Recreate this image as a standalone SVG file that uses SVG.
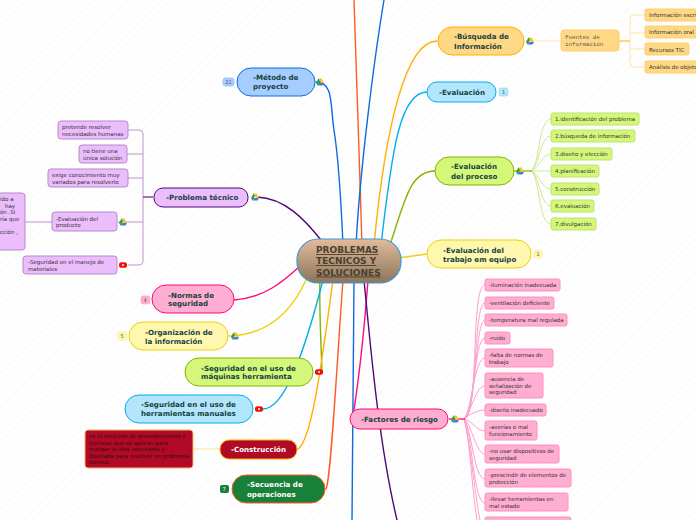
<svg xmlns="http://www.w3.org/2000/svg" width="696" height="520" viewBox="0 0 696 520">
<style>
text{font-family:"DejaVu Sans","Liberation Sans",sans-serif}
.m{font-size:7.1px;font-weight:700;fill:#16433f}
.s{font-size:5.5px;fill:#333}
.c{fill:none;stroke-linecap:round;stroke-width:1.4}
.pu{fill:#ebbdfc;stroke:#b58bc8;stroke-width:1}
.pk{fill:#ffadd0;stroke:#ff8fc0;stroke-width:1}
.gr{fill:#d4f77a;stroke:#bfe36d;stroke-width:1}
.or{fill:#ffd885;stroke:#ffcf70;stroke-width:1}
.n{font-size:5px;fill:#555;text-anchor:middle}
</style>
<defs>
<pattern id="bg" width="6" height="6" patternUnits="userSpaceOnUse" patternTransform="rotate(45)"><rect width="6" height="6" fill="#fefefe"/><rect width="1" height="6" fill="#f9f9f9"/></pattern>
<linearGradient id="cg" x1="0" y1="0" x2="0" y2="1"><stop offset="0" stop-color="#e2bb9a"/><stop offset="1" stop-color="#8b755c"/></linearGradient>
<g id="drive"><polygon points="-1.500,-3.500 1.500,-3.500 4,1 1,1" fill="#f5c518"/><polygon points="-1.500,-3.500 -4,1 -2.500,3.500 0,-1" fill="#2a9d4a"/><polygon points="-2.500,3.500 2.500,3.500 4,1 -1,1" fill="#3f7be0"/></g>
<g id="red"><rect x="-4" y="-2.800" width="8" height="5.600" rx="2.600" fill="#f20d0d"/><circle r="1" fill="#fff"/></g>
</defs>
<rect width="696" height="520" fill="url(#bg)"/>
<g id="connectors">
<path class="c" stroke="#ff5a22" d="M354 0C356 60 360 180 362 245"/>
<path class="c" stroke="#0f6be0" d="M384 0C374 60 360 170 356 245"/>
<path class="c" stroke="#0f6be0" d="M316 82C334 82 330 105 334 130S341 200 343 245"/>
<path class="c" stroke="#ffb000" d="M437 41C405 41 385 130 374 245"/>
<path class="c" stroke="#00aef0" d="M427 92C400 92 392 150 381 245"/>
<path class="c" stroke="#85b300" d="M435 171C410 171 405 200 390 245"/>
<path class="c" stroke="#ecd20a" d="M427 254L398 258"/>
<path class="c" stroke="#4f0a78" d="M257 197C285 198 305 220 321 240"/>
<path class="c" stroke="#fb0a78" d="M234 300C265 298 285 280 300 266"/>
<path class="c" stroke="#ecd20a" d="M229 336C265 335 290 315 306 280"/>
<path class="c" stroke="#85b300" d="M320 278C319 310 321 340 322 372"/>
<path class="c" stroke="#00aef0" d="M263 409C285 409 305 350 323 280"/>
<path class="c" stroke="#ffb000" d="M298 449C312 440 322 360 333 280"/>
<path class="c" stroke="#ff5a22" d="M326 489C331 480 337 360 343 280"/>
<path class="c" stroke="#0f6be0" d="M352 520L354 280"/>
<path class="c" stroke="#fb0a78" d="M354 410C360 370 365 320 368 280"/>
<path class="c" stroke="#4f0a78" d="M364 280C370 340 378 440 397 520"/>
<g stroke="#b58bc8" stroke-width=".9" fill="none">
<path d="M128 130H139Q143 130 143 134V261Q143 265 139 265H128"/><path d="M127 154H143M128 178H143M118 222H143"/><path d="M25 222H52"/>
</g>
<path d="M143 197H153" stroke="#7a3f98" stroke-width="1.4"/>
<g stroke="#ff9fcb" stroke-width="1" fill="none">
<path d="M464 419C480 415 470 285 485 285M464 419C478 415 473 303 485 303M464 419C476 415 475 320 485 320M464 419C474 415 474 338 485 338M464 419C472 410 474 358 485 358M464 419C472 410 476 386 485 386M464 419Q475 410 485 410M464 419C472 420 476 431 485 431M464 419C472 425 476 454 485 454M464 419C472 430 474 479 485 479M464 419C472 430 473 503 485 503M464 419C470 440 472 490 477 520M464 419C470 440 474 490 480 520"/>
</g>
<path d="M449 419H465" stroke="#fb0a78" stroke-width="1.3"/>
<g stroke="#cfe896" stroke-width="1" fill="none">
<path d="M531 171C540 165 538 119 551 119M531 171C540 165 540 136 551 136M531 171C540 167 542 154 551 154M531 171H551M531 171C540 175 542 189 551 189M531 171C540 175 540 206 551 206M531 171C540 177 538 224 551 224"/>
</g>
<path d="M514 171H532" stroke="#85b300" stroke-width="1.3"/>
<path d="M530 41H561" stroke="#ffe9b0" stroke-width="1"/>
<g stroke="#ffe2a8" stroke-width="1" fill="none">
<path d="M645 15H634Q630 15 630 19V63Q630 67 634 67H645"/><path d="M630 33H645M630 49H645"/>
</g>
<path d="M619 41H630" stroke="#ffb000" stroke-width="1"/>
<path d="M193 449H220" stroke="#ffe09a" stroke-width="1"/>
</g>
<g id="centro">
<rect x="297" y="239" width="104" height="44" rx="21" fill="url(#cg)" stroke="#3f97d8" stroke-width="1.2"/>
<text font-size="9" font-weight="700" fill="#4b3f2f" text-decoration="underline"><tspan x="316" y="253">PROBLEMAS</tspan><tspan x="316" y="264">TECNICOS Y</tspan><tspan x="316" y="275.500">SOLUCIONES</tspan></text>
</g>
<g id="busqueda"><rect x="438" y="27" width="86" height="28" rx="14" fill="#ffd885" stroke="#ffb000"/><text class="m"><tspan x="454" y="39">-Búsqueda de</tspan><tspan x="454" y="48.500">Información</tspan></text><use href="#drive" x="530" y="41"/></g>
<g id="fuentes"><rect x="561" y="30" width="58" height="21" rx="3" class="or"/><text style="font-family:'Liberation Mono',monospace" font-size="5.800" fill="#5a5a5a"><tspan x="565" y="39">fuentes de</tspan><tspan x="565" y="46">información</tspan></text></g>
<g id="f1"><rect x="645" y="9" width="60" height="12" rx="2" class="or"/><text class="s" x="649" y="17">Información escrita</text></g>
<g id="f2"><rect x="645" y="26" width="60" height="12" rx="2" class="or"/><text class="s" x="649" y="34">Información oral</text></g>
<g id="f3"><rect x="645" y="43" width="44" height="12" rx="2" class="or"/><text class="s" x="649" y="52">Recursos TIC</text></g>
<g id="f4"><rect x="645" y="61" width="60" height="12" rx="2" class="or"/><text class="s" x="649" y="69">Análisis de objetos</text></g>
<g id="evaluacion"><rect x="427" y="82" width="69" height="20" rx="10" fill="#b3e5fc" stroke="#00aef0"/><text class="m" x="439" y="95">-Evaluación</text><rect x="499" y="88" width="9" height="8" rx="2" fill="#b3e5fc" stroke="#8fd6f5" stroke-width=".6"/><text class="n" x="503.500" y="94">1</text></g>
<g id="proceso"><rect x="435" y="157" width="79" height="28" rx="14" fill="#d4f77a" stroke="#85b300"/><text class="m"><tspan x="451" y="169">-Evaluación</tspan><tspan x="451" y="178.500">del proceso</tspan></text><use href="#drive" x="520" y="171"/></g>
<g id="p1"><rect x="551" y="113" width="88" height="12" rx="2" class="gr"/><text class="s" x="555" y="121">1.identificación del problema</text></g>
<g id="p2"><rect x="551" y="130" width="84" height="12" rx="2" class="gr"/><text class="s" x="555" y="138">2.búsqueda de información</text></g>
<g id="p3"><rect x="551" y="148" width="61" height="12" rx="2" class="gr"/><text class="s" x="555" y="156">3.diseño y elección</text></g>
<g id="p4"><rect x="551" y="165" width="48" height="12" rx="2" class="gr"/><text class="s" x="555" y="173">4.planificación</text></g>
<g id="p5"><rect x="551" y="183" width="48" height="12" rx="2" class="gr"/><text class="s" x="555" y="191">5.construcción</text></g>
<g id="p6"><rect x="551" y="200" width="43" height="12" rx="2" class="gr"/><text class="s" x="555" y="208">6.evaluación</text></g>
<g id="p7"><rect x="551" y="218" width="45" height="12" rx="2" class="gr"/><text class="s" x="555" y="226">7.divulgación</text></g>
<g id="equipo"><rect x="427" y="240" width="104" height="28" rx="14" fill="#fff7ae" stroke="#ecd20a"/><text class="m"><tspan x="443" y="253">-Evaluación del</tspan><tspan x="443" y="261.500">trabajo em equipo</tspan></text><rect x="534" y="250" width="8" height="8" rx="2" fill="#fff7ae" stroke="#f5e98a" stroke-width=".6"/><text class="n" x="538" y="256">1</text></g>
<g id="metodo"><rect x="237" y="68" width="78" height="28" rx="14" fill="#a5cdff" stroke="#0f6be0"/><text class="m"><tspan x="253" y="80">-Método de</tspan><tspan x="253" y="89">proyecto</tspan></text><rect x="223" y="78" width="11" height="8" rx="2" fill="#a5cdff" stroke="#8cbcf5" stroke-width=".6"/><text class="n" x="228.500" y="84">21</text><use href="#drive" x="320" y="82"/></g>
<g id="problema"><rect x="154" y="188" width="94" height="19" rx="9" fill="#ebbdfc" stroke="#4f0a78"/><text class="m" x="166" y="200">-Problema técnico</text><use href="#drive" x="255" y="197"/></g>
<g id="q1"><rect x="58" y="121" width="70" height="18" rx="3" class="pu"/><text class="s"><tspan x="62" y="129">pretende resolver</tspan><tspan x="62" y="136">necesidades humanas</tspan></text></g>
<g id="q2"><rect x="79" y="145" width="48" height="18" rx="3" class="pu"/><text class="s"><tspan x="83" y="153">no tiene una</tspan><tspan x="83" y="160">única solución</tspan></text></g>
<g id="q3"><rect x="48" y="169" width="80" height="18" rx="3" class="pu"/><text class="s"><tspan x="52" y="177">exige conocimiento muy</tspan><tspan x="52" y="184">variados para resolverlo</tspan></text></g>
<g id="q4"><rect x="52" y="212" width="65" height="19" rx="3" class="pu"/><text class="s"><tspan x="56" y="221">-Evaluación del</tspan><tspan x="56" y="227">producto</tspan></text><use href="#drive" x="123" y="222"/></g>
<g id="q5"><rect x="23" y="256" width="94" height="18" rx="3" class="pu"/><text class="s"><tspan x="28" y="264">-Seguridad en el manejo de</tspan><tspan x="28" y="271">materiales</tspan></text><use href="#red" x="123" y="265"/></g>
<g id="q6"><rect x="-40" y="193" width="65" height="57" rx="3" class="pu"/><text class="s"><tspan x="0" y="201">ido a</tspan><tspan x="5" y="208">hay</tspan><tspan x="0" y="214">ón .Si</tspan><tspan x="0" y="221">ría que</tspan><tspan x="0" y="234">cción ,</tspan></text></g>
<g id="normas"><rect x="152" y="285" width="82" height="28" rx="14" fill="#ffadd0" stroke="#fb0a78"/><text class="m"><tspan x="168" y="298">-Normas de</tspan><tspan x="168" y="306">seguridad</tspan></text><rect x="141" y="296" width="9" height="8" rx="2" fill="#ffadd0" stroke="#ff9cc6" stroke-width=".6"/><text class="n" x="145" y="302">4</text></g>
<g id="organizacion"><rect x="129" y="322" width="99" height="28" rx="14" fill="#fff7ae" stroke="#ecd20a"/><text class="m"><tspan x="145" y="334.500">-Organización de</tspan><tspan x="145" y="343.500">la información</tspan></text><rect x="118" y="332" width="9" height="8" rx="2" fill="#fff7ae" stroke="#f5e98a" stroke-width=".6"/><text class="n" x="122" y="338">5</text><use href="#drive" x="235" y="336"/></g>
<g id="maquinas"><rect x="185" y="358" width="128" height="28" rx="14" fill="#d4f77a" stroke="#85b300"/><text class="m"><tspan x="201" y="371">-Seguridad en el uso de</tspan><tspan x="201" y="379">máquinas herramienta</tspan></text><use href="#red" x="319" y="372"/></g>
<g id="manuales"><rect x="125" y="395" width="128" height="28" rx="14" fill="#b3e5fc" stroke="#00aef0"/><text class="m"><tspan x="141" y="407">-Seguridad en el uso de</tspan><tspan x="141" y="416">herramientas manuales</tspan></text><use href="#red" x="259" y="409"/></g>
<g id="construccion"><rect x="220" y="440" width="77" height="19" rx="9" fill="#b10a26" stroke="#ffb000"/><text class="m" x="231" y="452" style="fill:#fff">-Construcción</text></g>
<g id="definicion"><rect x="85" y="430" width="108" height="38" rx="3" fill="#b10a26" stroke="#ffb56a"/><text class="s" style="fill:#3a0a10"><tspan x="89" y="438">es el conjunto de procedimientos y</tspan><tspan x="89" y="445">técnicas que se aplican para</tspan><tspan x="89" y="451">realizar la idea concebida y</tspan><tspan x="89" y="458">diseñada para resolver un problema</tspan><tspan x="89" y="464">técnico</tspan></text></g>
<g id="secuencia"><rect x="232" y="475" width="93" height="28" rx="14" fill="#188038" stroke="#ff5a22"/><text class="m" style="fill:#fff"><tspan x="247" y="487">-Secuencia de</tspan><tspan x="247" y="496.500">operaciones</tspan></text><rect x="220" y="485" width="9" height="8" rx="2" fill="#188038"/><text class="n" x="224" y="491" style="fill:#fff">7</text></g>
<g id="factores"><rect x="350" y="409" width="98" height="20" rx="10" fill="#ffadd0" stroke="#fb0a78"/><text class="m" x="361" y="422">-Factores de riesgo</text><use href="#drive" x="455" y="419"/></g>
<g id="r1"><rect x="485" y="279" width="75" height="12" rx="2" class="pk"/><text class="s" x="489" y="287">-iluminación inadecuada</text></g>
<g id="r2"><rect x="485" y="297" width="69" height="12" rx="2" class="pk"/><text class="s" x="489" y="305">-ventilación deficiente</text></g>
<g id="r3"><rect x="485" y="314" width="82" height="12" rx="2" class="pk"/><text class="s" x="489" y="322">-temperatura mal regulada</text></g>
<g id="r4"><rect x="485" y="332" width="25" height="12" rx="2" class="pk"/><text class="s" x="489" y="340">-ruido</text></g>
<g id="r5"><rect x="485" y="349" width="68" height="18" rx="2" class="pk"/><text class="s"><tspan x="489" y="357">-falta de normas de</tspan><tspan x="489" y="364">trabajo</tspan></text></g>
<g id="r6"><rect x="485" y="373" width="58" height="25" rx="2" class="pk"/><text class="s"><tspan x="489" y="381">-ausencia de</tspan><tspan x="489" y="388">señalización de</tspan><tspan x="489" y="394">seguridad</tspan></text></g>
<g id="r7"><rect x="485" y="404" width="61" height="12" rx="2" class="pk"/><text class="s" x="489" y="412">-diseño inadecuado</text></g>
<g id="r8"><rect x="485" y="421" width="52" height="19" rx="2" class="pk"/><text class="s"><tspan x="489" y="429">-averías o mal</tspan><tspan x="489" y="436">funcionamiento</tspan></text></g>
<g id="r9"><rect x="485" y="445" width="74" height="18" rx="2" class="pk"/><text class="s"><tspan x="489" y="453">-no usar dispositivos de</tspan><tspan x="489" y="460">seguridad</tspan></text></g>
<g id="r10"><rect x="485" y="469" width="86" height="18" rx="2" class="pk"/><text class="s"><tspan x="489" y="477">-prescindir de elementos de</tspan><tspan x="489" y="484">protección</tspan></text></g>
<g id="r11"><rect x="485" y="493" width="83" height="18" rx="2" class="pk"/><text class="s"><tspan x="489" y="501">-llevar herramientas en</tspan><tspan x="489" y="508">mal estado</tspan></text></g>
<g id="r12"><rect x="485" y="517" width="86" height="18" rx="2" class="pk"/></g>
</svg>
